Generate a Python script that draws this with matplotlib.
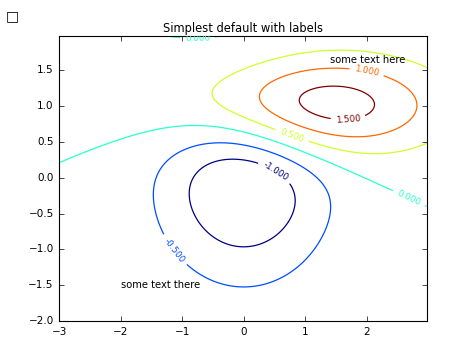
import numpy as np
import matplotlib
matplotlib.use("Agg")
import matplotlib.pyplot as plt

plt.style.use("classic")

# grid of the field
x_range = [-3.0, 3.0]
y_range = [-2.0, 2.0]
step = 0.025

# two gaussian bumps: (mu_x, mu_y, sigma_x, sigma_y)
bump_low = [0.0, 0.0, 1.0, 1.0]
bump_high = [1.0, 1.0, 1.5, 0.5]
scale = 10.0

levels = [-1.0, -0.5, 0.0, 0.5, 1.0, 1.5]

# where the contour labels sit
label_spots = [(-0.75, 1.93), (2.68, -0.3), (2.0, 1.47), (1.7, 0.79),
               (0.78, 0.57), (0.48, 0.04), (-1.19, -1.05)]


def bump(X, Y, p):
    mx, my, sx, sy = p
    return np.exp(-((X - mx) ** 2 / (2 * sx ** 2) + (Y - my) ** 2 / (2 * sy ** 2))) / (2 * np.pi * sx * sy)


x = np.arange(x_range[0], x_range[1], step)
y = np.arange(y_range[0], y_range[1], step)
X, Y = np.meshgrid(x, y)
Z = scale * (bump(X, Y, bump_high) - bump(X, Y, bump_low))

jet = plt.get_cmap('jet')
lev = np.array(levels)
line_colors = [jet(v) for v in (lev - lev.min()) / (lev.max() - lev.min())]

fig = plt.figure(figsize=(4.74, 3.57), dpi=100)
ax = fig.add_subplot(111)

cs = ax.contour(X, Y, Z, levels=levels, colors=line_colors, linewidths=0.9)
ax.clabel(cs, inline=True, fontsize=6.3, fmt='%1.3f', manual=label_spots)

ax.text(1.4, 1.64, 'some text here', fontsize=7.2, va='center')
ax.text(-2.0, -1.5, 'some text there', fontsize=7.2, va='center')
ax.set_title('Simplest default with labels', fontsize=8.3, pad=3)
ax.tick_params(labelsize=7.5, length=3.5)
for s in ax.spines.values():
    s.set_linewidth(0.8)

fig.text(0.013, 0.975, '\u25a1', fontsize=10, va='top')

fig.savefig('out.png', dpi=100)
